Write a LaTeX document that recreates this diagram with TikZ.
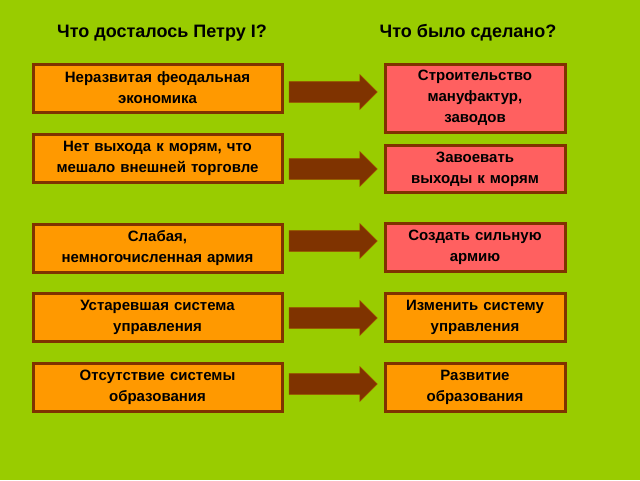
\documentclass[tikz,border=0pt]{standalone}
\usepackage{fontspec}
\setmainfont{Liberation Sans}
\usetikzlibrary{shapes.arrows}
\definecolor{bgreen}{HTML}{99CC00}
\definecolor{borange}{HTML}{FF9900}
\definecolor{bred}{HTML}{FF6060}
\definecolor{bbrown}{HTML}{7F3300}
\tikzset{
  box/.style={draw=bbrown, line width=3pt, align=center, font=\bfseries\fontsize{15}{21}\selectfont, inner sep=1pt},
  leftbox/.style={box, fill=borange, minimum width=249pt, text width=245pt, minimum height=48pt},
  rightbox/.style={box, fill=bred, minimum width=180pt, text width=176pt},
  blockarrow/.style={single arrow, fill=bbrown, draw=bbrown!80!orange, line width=0.6pt, minimum height=88pt, inner sep=10pt, single arrow head extend=7pt}
}
\begin{document}
\begin{tikzpicture}[x=1pt,y=-1pt]
\fill[bgreen] (0,0) rectangle (640,480);
\useasboundingbox (0,0) rectangle (640,480);

%Titles
\node[font=\bfseries\fontsize{18}{21}\selectfont] (t1) at (162,33) {Что досталось Петру I?};
\node[font=\bfseries\fontsize{18}{21}\selectfont] (t2) at (468,33) {Что было сделано?};

%Left column
\node[leftbox] (l1) at (157.5,88) {Неразвитая феодальная\\экономика};
\node[leftbox] (l2) at (157.5,158) {Нет выхода к морям, что\\мешало внешней торговле};
\node[leftbox] (l3) at (157.5,248) {Слабая,\\немногочисленная армия};
\node[leftbox] (l4) at (157.5,317) {Устаревшая система\\управления};
\node[leftbox] (l5) at (157.5,387) {Отсутствие системы\\образования};

%Right column
\node[rightbox, minimum height=68pt] (r1) at (475,98) {Строительство\\мануфактур,\\заводов};
\node[rightbox, minimum height=47pt] (r2) at (475,169) {Завоевать\\выходы к морям};
\node[rightbox, minimum height=48pt] (r3) at (475,247) {Создать сильную\\армию};
\node[rightbox, minimum height=48pt, fill=borange] (r4) at (475,317) {Изменить систему\\управления};
\node[rightbox, minimum height=48pt, fill=borange] (r5) at (475,387) {Развитие\\образования};

%Arrows
\foreach \n/\y in {1/92, 2/169, 3/241, 4/318, 5/384}
{
  \node[blockarrow] (a\n) at (328,\y) {};
}
\end{tikzpicture}
\end{document}
